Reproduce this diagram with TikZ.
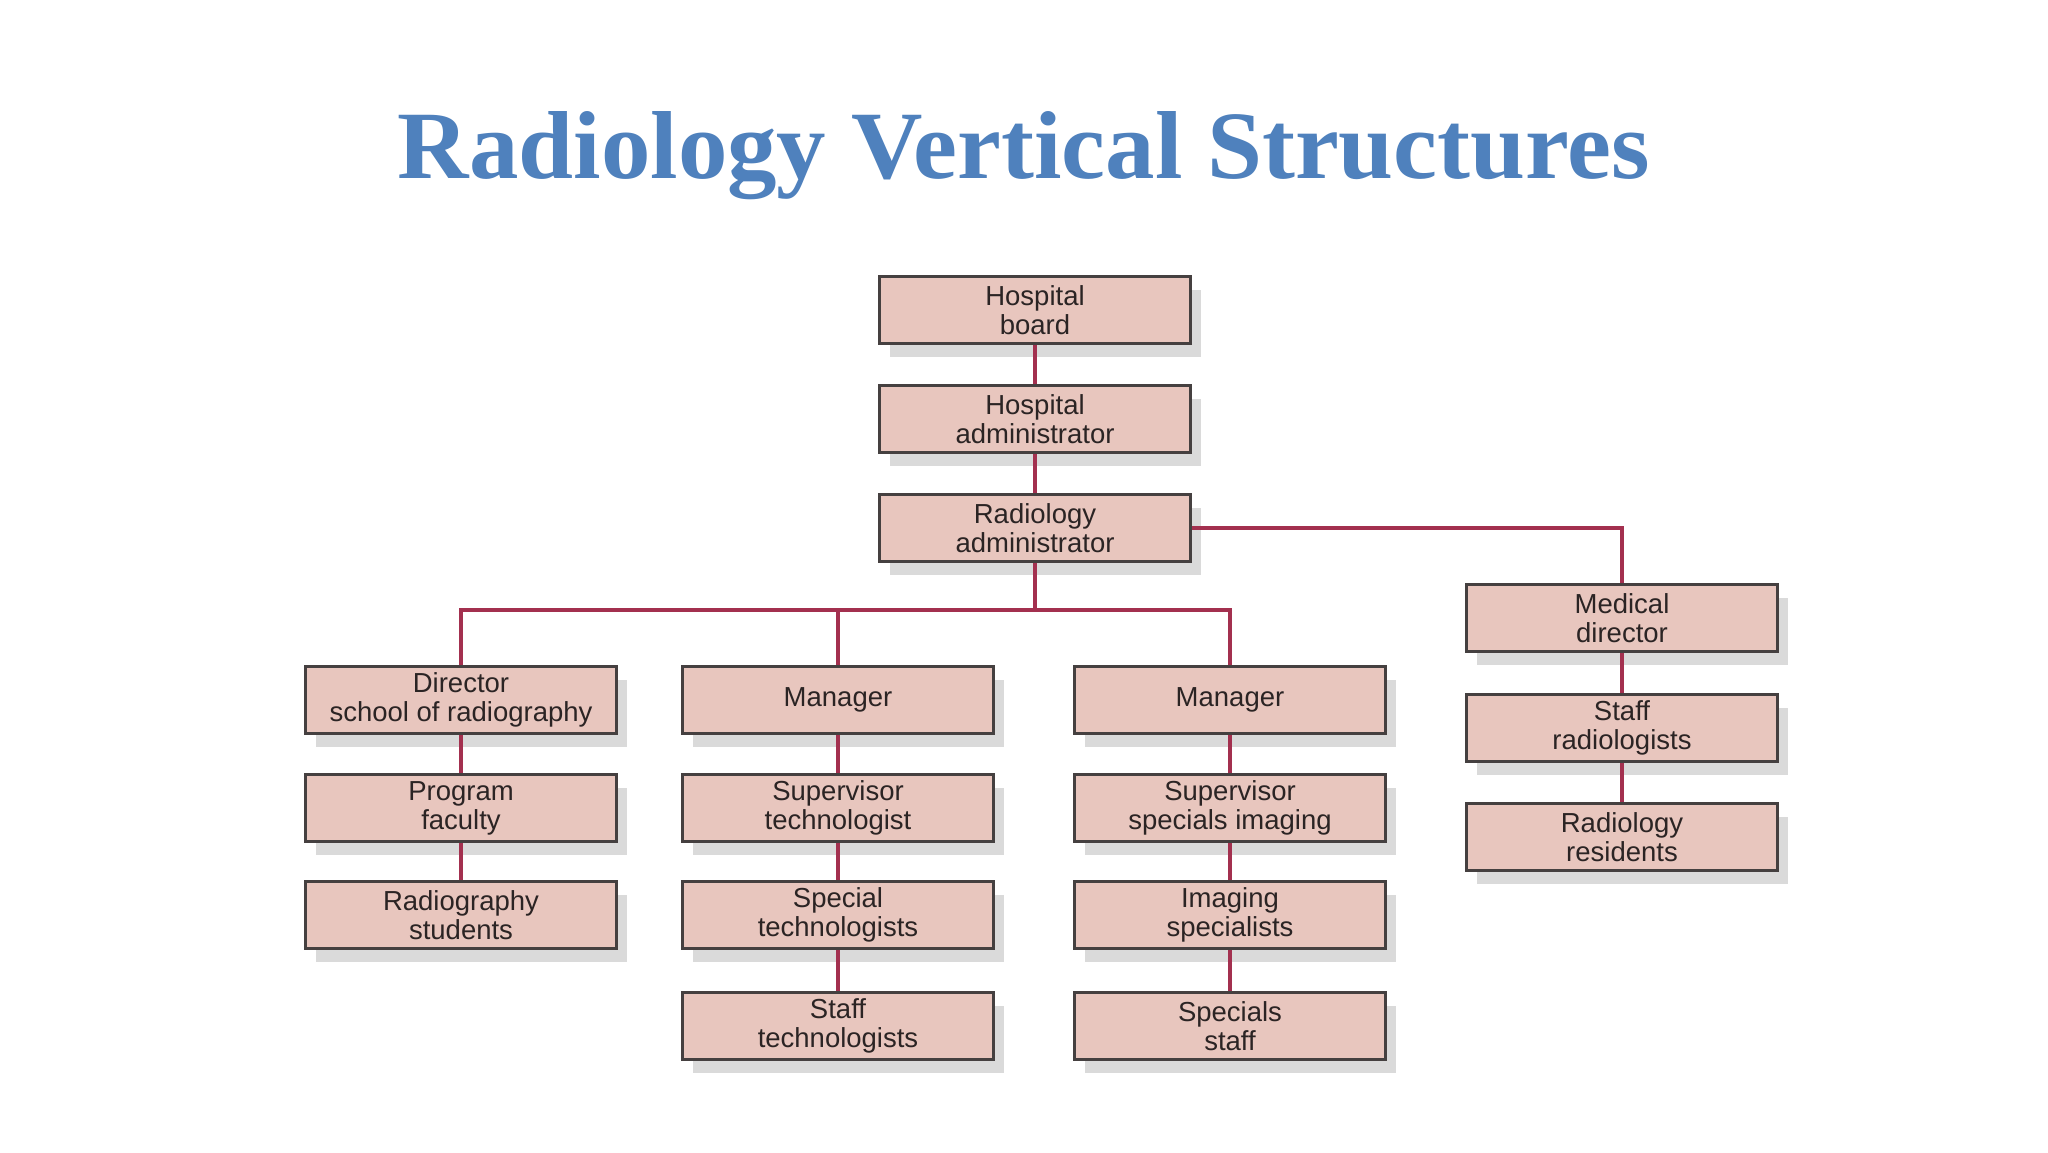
\documentclass[tikz,border=0pt]{standalone}
\usepackage{fontspec}
\setmainfont{Liberation Sans}
\newfontfamily\titlefont{Liberation Serif}
\usetikzlibrary{shadows}
\definecolor{titleblue}{HTML}{4F81BD}
\definecolor{boxfill}{HTML}{E8C6BE}
\definecolor{boxline}{HTML}{454040}
\definecolor{conncol}{HTML}{A3304F}
\definecolor{txtcol}{HTML}{2B2424}
\definecolor{shadowgray}{HTML}{DADADA}
\begin{document}
\begin{tikzpicture}[x=1pt,y=-1pt,
  orgbox/.style={draw=boxline, line width=2.5pt, fill=boxfill, text=txtcol,
    minimum width=311pt, minimum height=67pt, inner sep=0pt, align=center,
    font=\fontsize{27.5}{29}\selectfont,
    drop shadow={shadow xshift=10pt, shadow yshift=-13pt, fill=shadowgray, opacity=1}},
  conn/.style={draw=conncol, line width=3.5pt}]
\useasboundingbox[fill=white] (0,0) rectangle (2048,1152);
\node[anchor=base, text=titleblue, inner sep=0pt] (title) at (1024,178)
  {\resizebox{1252pt}{67pt}{\titlefont\bfseries Radiology Vertical Structures}};

\node[orgbox] (hb) at (1035,310) {Hospital\\board};
\node[orgbox] (ha) at (1035,419) {Hospital\\administrator};
\node[orgbox] (ra) at (1035,528) {Radiology\\administrator};

\node[orgbox] (dir) at (461,700) {Director\\school of radiography};
\node[orgbox] (pf) at (461,808) {Program\\faculty};
\node[orgbox] (rs) at (461,915) {Radiography\\students};

\node[orgbox] (m1) at (838,700) {Manager};
\node[orgbox] (s1) at (838,808) {Supervisor\\technologist};
\node[orgbox] (st) at (838,915) {Special\\technologists};
\node[orgbox] (stt) at (838,1026) {Staff\\technologists};

\node[orgbox] (m2) at (1230,700) {Manager};
\node[orgbox] (s2) at (1230,808) {Supervisor\\specials imaging};
\node[orgbox] (is) at (1230,915) {Imaging\\specialists};
\node[orgbox] (ss) at (1230,1026) {Specials\\staff};

\node[orgbox] (md) at (1622,618) {Medical\\director};
\node[orgbox] (sr) at (1622,728) {Staff\\radiologists};
\node[orgbox] (rr) at (1622,837) {Radiology\\residents};

\coordinate (bus) at (1035,610);

\draw[conn] (hb.south) -- (ha.north);
\draw[conn] (ha.south) -- (ra.north);
\draw[conn] (ra.south) -- (bus);
\draw[conn] (dir.north) |- (bus) -| (m2.north);
\draw[conn] (m1.north |- bus) -- (m1.north);
\draw[conn] (ra.east) -| (md.north);
\draw[conn] (dir.south) -- (pf.north);
\draw[conn] (pf.south) -- (rs.north);
\draw[conn] (m1.south) -- (s1.north);
\draw[conn] (s1.south) -- (st.north);
\draw[conn] (st.south) -- (stt.north);
\draw[conn] (m2.south) -- (s2.north);
\draw[conn] (s2.south) -- (is.north);
\draw[conn] (is.south) -- (ss.north);
\draw[conn] (md.south) -- (sr.north);
\draw[conn] (sr.south) -- (rr.north);
\end{tikzpicture}
\end{document}
